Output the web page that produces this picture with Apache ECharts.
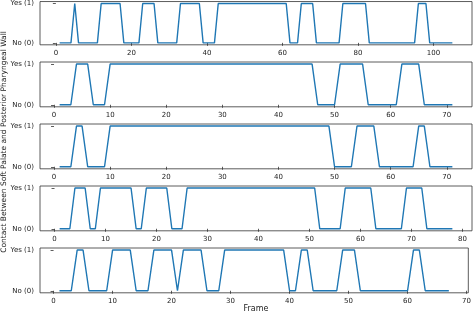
<!DOCTYPE html>
<html>
<head>
<meta charset="utf-8">
<script src="https://cdn.jsdelivr.net/npm/echarts@6/dist/echarts.min.js"></script>
<style>
html,body{margin:0;padding:0;background:#fff;}
#chart{width:474px;height:313px;}
</style>
</head>
<body>
<div id="chart"></div>
<script>
// Contact (1 = Yes, 0 = No) per frame, frames start at 1
const contact1 = [
  0,0,0,0,1,0,0,0,0,0,
  0,1,1,1,1,1,1,0,0,0,
  0,0,1,1,1,1,0,0,0,0,
  0,0,1,1,1,1,1,1,0,0,
  0,0,1,1,1,1,1,1,1,1,
  1,1,1,1,1,1,1,1,1,1,
  1,0,0,0,1,1,1,1,0,0,
  0,0,0,0,0,1,1,1,1,1,
  1,1,0,0,0,0,0,0,0,0,
  0,0,0,0,0,1,1,1,0,0,
  0,0,0,0,0
];
const contact2 = [
  0,0,0,1,1,1,0,0,0,1,
  1,1,1,1,1,1,1,1,1,1,
  1,1,1,1,1,1,1,1,1,1,
  1,1,1,1,1,1,1,1,1,1,
  1,1,1,1,1,1,0,0,0,0,
  1,1,1,1,1,0,0,0,0,0,
  0,1,1,1,1,0,0,0,0,0,
  0
];
const contact3 = [
  0,0,0,1,1,0,0,0,0,1,
  1,1,1,1,1,1,1,1,1,1,
  1,1,1,1,1,1,1,1,1,1,
  1,1,1,1,1,1,1,1,1,1,
  1,1,1,1,1,1,1,1,1,0,
  0,0,0,1,1,1,1,0,0,0,
  0,0,0,0,1,1,0,0,0,0,
  0
];
const contact4 = [
  0,0,0,1,1,1,0,0,1,1,
  1,1,1,1,1,0,0,1,1,1,
  1,1,0,0,0,1,1,1,1,1,
  1,1,1,1,1,1,1,1,1,1,
  1,1,1,1,1,1,1,1,1,1,
  1,0,0,0,0,0,1,1,1,1,
  1,1,0,0,0,0,0,0,1,1,
  1,1,0,0,0,0,0,0
];
const contact5 = [
  0,0,0,1,1,0,0,0,0,1,
  1,1,1,0,0,0,1,1,1,1,
  0,1,1,1,1,0,0,0,1,1,
  1,1,1,1,1,1,1,1,1,0,
  0,1,1,0,0,0,0,0,1,1,
  1,0,0,0,0,0,0,0,0,0,
  1,1,0,0,0,0,0
];
const xTicks1 = [0, 20, 40, 60, 80, 100];
const xTicks2 = [0, 10, 20, 30, 40, 50, 60, 70];
const xTicks3 = [0, 10, 20, 30, 40, 50, 60, 70];
const xTicks4 = [0, 10, 20, 30, 40, 50, 60, 70, 80];
const xTicks5 = [0, 10, 20, 30, 40, 50, 60, 70];
const yTickLabels = ['No (0)', 'Yes (1)'];
const xTitle = 'Frame';
const yTitle = 'Contact Between Soft Palate and Posterior Pharyngeal Wall';

const panels = [
  {data: contact1, ticks: xTicks1},
  {data: contact2, ticks: xTicks2},
  {data: contact3, ticks: xTicks3},
  {data: contact4, ticks: xTicks4},
  {data: contact5, ticks: xTicks5}
];

const FONT = 'DejaVu Sans';
const tops = [0, 62, 124, 186, 248];
const H = 44.8;
const grids = [], xAxes = [], yAxes = [], series = [];
panels.forEach((p, i) => {
  const n = p.data.length;
  const pad = 0.05 * (n - 1);
  grids.push({left: 40, right: 2, top: tops[i], height: H, show: true,
    borderColor: '#333', borderWidth: 0.8, backgroundColor: 'transparent'});
  xAxes.push({type: 'value', gridIndex: i, min: 1 - pad, max: n + pad,
    axisLine: {show: false}, splitLine: {show: false},
    axisTick: {show: true, length: 3, customValues: p.ticks, lineStyle: {color: '#333', width: 0.8}},
    axisLabel: {customValues: p.ticks, fontFamily: FONT, fontSize: 7, color: '#222', margin: 4.5}
  });
  yAxes.push({type: 'value', gridIndex: i, min: -0.05, max: 1.05,
    axisLine: {show: false}, splitLine: {show: false},
    axisTick: {show: true, length: 3, customValues: [0, 1], lineStyle: {color: '#333', width: 0.8}},
    axisLabel: {customValues: [0, 1], fontFamily: FONT, fontSize: 7, color: '#222', margin: 6,
      formatter: v => yTickLabels[Math.round(v)]}
  });
  series.push({type: 'line', xAxisIndex: i, yAxisIndex: i, showSymbol: false,
    data: p.data.map((v, k) => [k + 1, v]),
    lineStyle: {color: '#1f77b4', width: 1.4}, itemStyle: {color: '#1f77b4'}});
});

const chart = echarts.init(document.getElementById('chart'), null, {renderer: 'canvas'});
chart.setOption({
  animation: false,
  backgroundColor: '#fff',
  grid: grids, xAxis: xAxes, yAxis: yAxes, series: series,
  graphic: [
    {type: 'text', x: 256, y: 309, style: {text: xTitle, fontFamily: FONT, fontSize: 8, fill: '#222',
      align: 'center', verticalAlign: 'middle'}},
    {type: 'text', x: 4, y: 142, rotation: Math.PI / 2, style: {text: yTitle, fontFamily: FONT, fontSize: 7.5,
      fill: '#222', align: 'center', verticalAlign: 'middle'}}
  ]
});
</script>
</body>
</html>
